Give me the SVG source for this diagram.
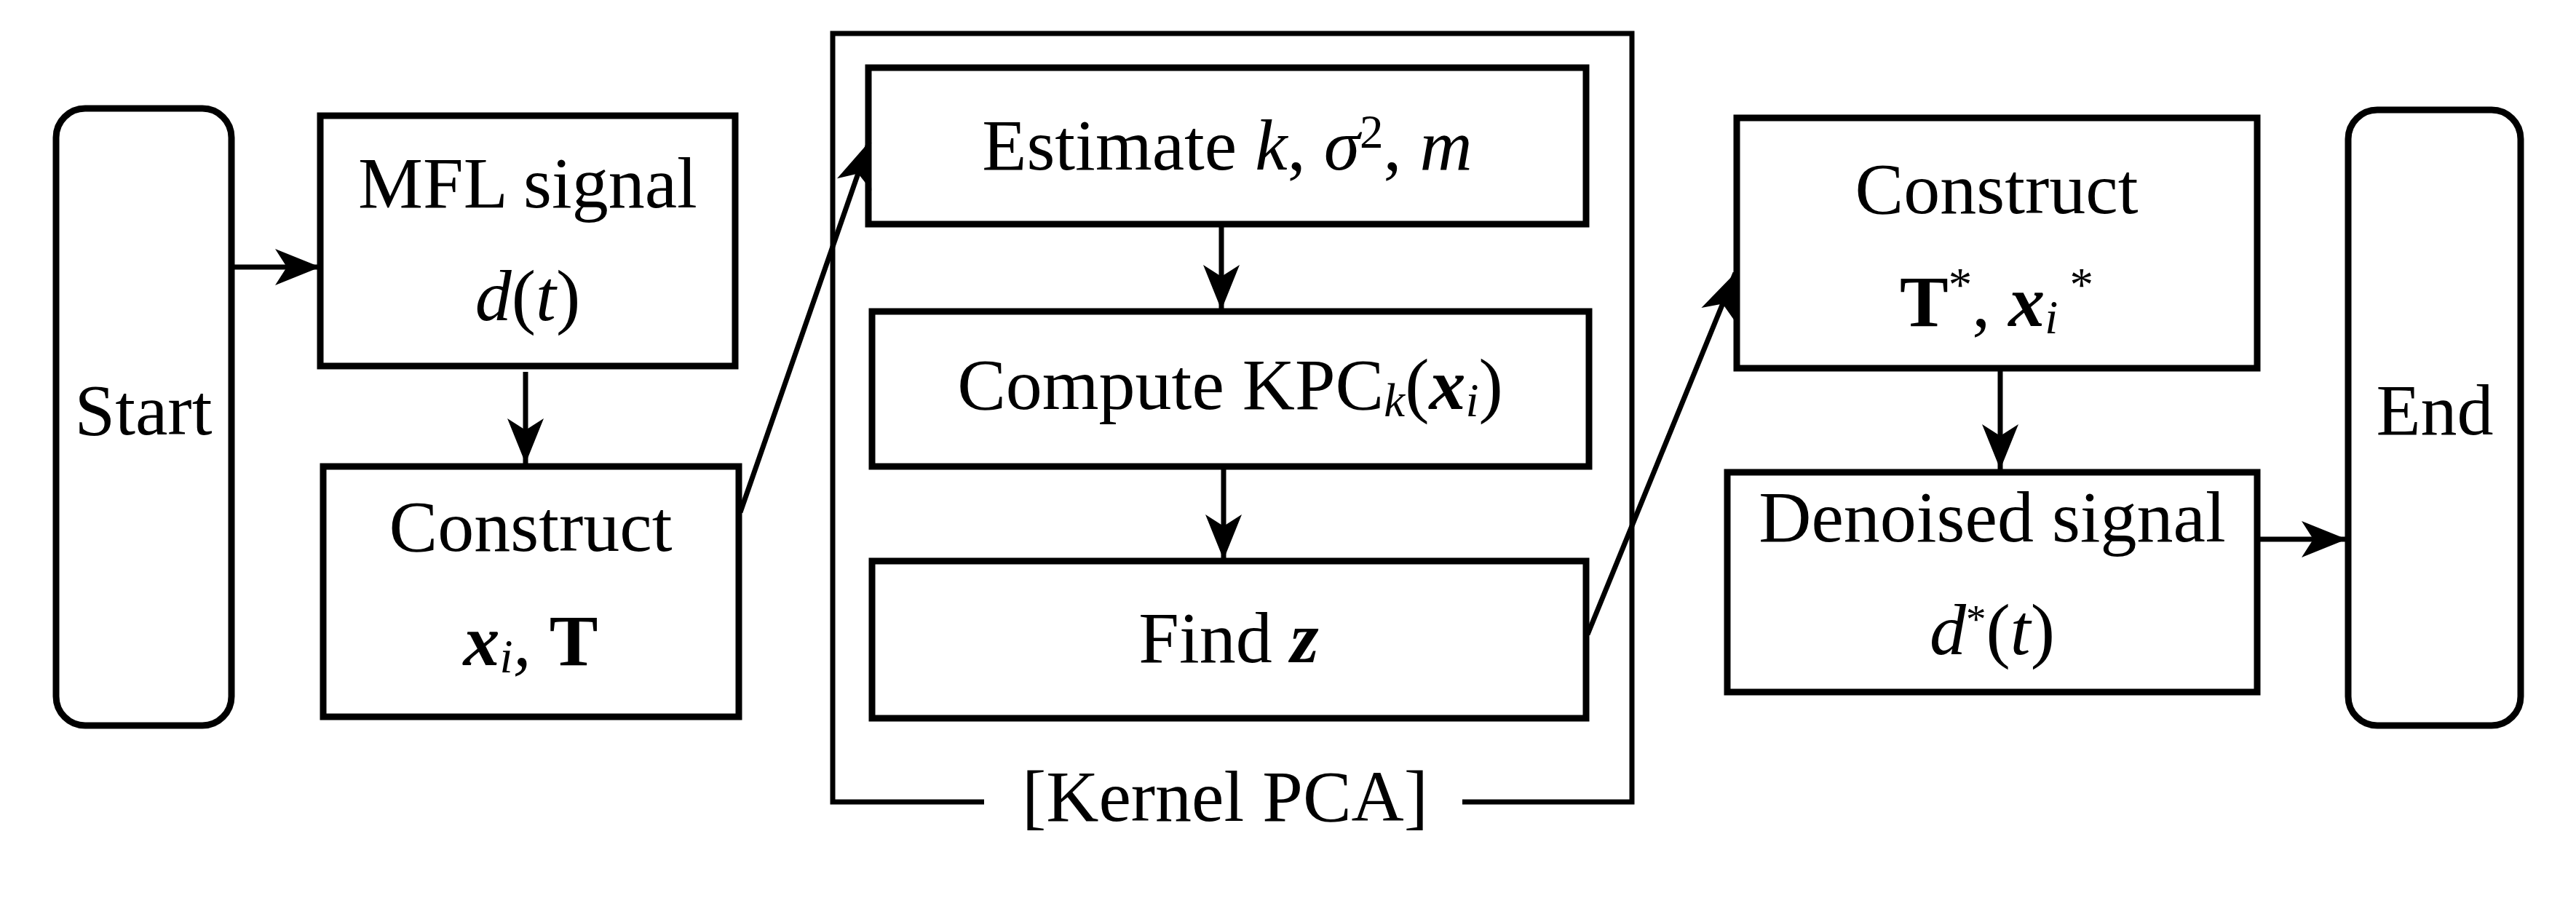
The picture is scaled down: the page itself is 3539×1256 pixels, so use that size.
<svg xmlns="http://www.w3.org/2000/svg" width="3539" height="1256" viewBox="0 0 3539 1256">
<style>
.b{fill:#fff;stroke:#000;stroke-width:9}
.l{fill:none;stroke:#000;stroke-width:7}
text{font-family:"Liberation Serif",serif;font-size:100px;text-anchor:middle;fill:#000}
.i{font-style:italic}
.bd{font-weight:bold}
</style>
<defs>
<marker id="a" markerUnits="userSpaceOnUse" markerWidth="70" markerHeight="56" refX="62" refY="28" orient="auto">
<path d="M0,3 L62,28 L0,53 L16,28 Z" fill="#000"/>
</marker>
</defs>
<rect width="3539" height="1256" fill="#fff"/>
<g id="kernel">
<path class="l" d="M1352,1102 H1144 V46 H2242 V1102 H2009" stroke-width="8"/>
<text x="1683" y="1128">[Kernel PCA]</text>
</g>
<g id="start"><rect class="b" x="77" y="149" width="241" height="848" rx="40"/><text x="197" y="597">Start</text></g>
<g id="mfl"><rect class="b" x="440" y="159" width="570" height="344"/><text x="725" y="285">MFL signal</text><text x="725" y="440"><tspan class="i">d</tspan>(<tspan class="i">t</tspan>)</text></g>
<g id="construct1"><rect class="b" x="444" y="641" width="571" height="344"/><text x="729" y="757">Construct</text><text x="729" y="914"><tspan class="i bd">x</tspan><tspan class="i" font-size="65" dy="10">i</tspan><tspan class="i" dy="-10">,</tspan> <tspan class="bd">T</tspan></text></g>
<g id="estimate"><rect class="b" x="1193" y="93" width="986" height="215"/><text x="1686" y="233">Estimate <tspan class="i">k</tspan>, <tspan class="i">σ</tspan><tspan font-size="65" dy="-30">2</tspan><tspan dy="30">, </tspan><tspan class="i">m</tspan></text></g>
<g id="compute"><rect class="b" x="1198" y="428" width="985" height="213"/><text x="1690" y="562">Compute KPC<tspan class="i" font-size="65" dy="10">k</tspan><tspan dy="-10">(</tspan><tspan class="i bd">x</tspan><tspan class="i" font-size="65" dy="10">i</tspan><tspan dy="-10">)</tspan></text></g>
<g id="findz"><rect class="b" x="1198" y="771" width="981" height="216"/><text x="1688" y="910">Find <tspan class="i bd">z</tspan></text></g>
<g id="construct2"><rect class="b" x="2386" y="162" width="715" height="344"/><text x="2743" y="293">Construct</text><text x="2743" y="448"><tspan class="bd">T</tspan><tspan font-size="65" dy="-35">*</tspan><tspan dy="35">, </tspan><tspan class="i bd">x</tspan><tspan class="i" font-size="65" dy="10">i</tspan><tspan font-size="65" dy="-45"> *</tspan></text></g>
<g id="denoised"><rect class="b" x="2373" y="649" width="728" height="302"/><text x="2737" y="744">Denoised signal</text><text x="2737" y="899"><tspan class="i">d</tspan><tspan font-size="55" dy="-30">*</tspan><tspan dy="30">(</tspan><tspan class="i">t</tspan>)</text></g>
<g id="end"><rect class="b" x="3226" y="151" width="237" height="846" rx="40"/><text x="3345" y="597">End</text></g>
<g id="connectors">
<line class="l" x1="318" y1="367" x2="440" y2="367" marker-end="url(#a)"/>
<line class="l" x1="722" y1="511" x2="722" y2="637" marker-end="url(#a)"/>
<line class="l" x1="1017" y1="704" x2="1194" y2="195" marker-end="url(#a)"/>
<line class="l" x1="1678" y1="308" x2="1678" y2="426" marker-end="url(#a)"/>
<line class="l" x1="1681" y1="641" x2="1681" y2="769" marker-end="url(#a)"/>
<line class="l" x1="2181" y1="872" x2="2384" y2="375" marker-end="url(#a)"/>
<line class="l" x1="2748" y1="506" x2="2748" y2="645" marker-end="url(#a)"/>
<line class="l" x1="3101" y1="741" x2="3224" y2="741" marker-end="url(#a)"/>
</g>
</svg>
